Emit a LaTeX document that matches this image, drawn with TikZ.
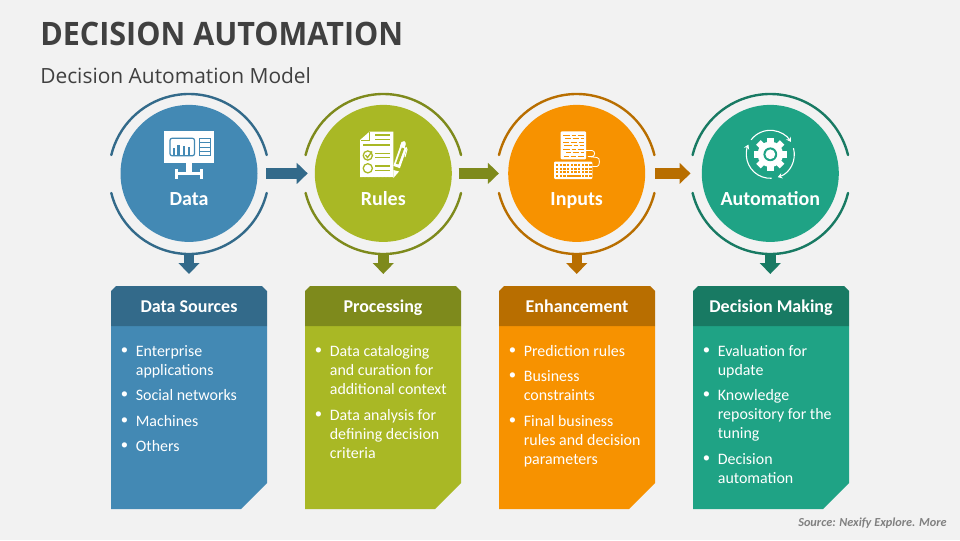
\documentclass[tikz,border=0pt]{standalone}
\usepackage{fontspec}
\setmainfont{Carlito}
\newfontfamily\titlefont{Open Sans}
\newfontfamily\titlefontn[FakeStretch=0.945]{Open Sans}
\usetikzlibrary{arrows.meta}
\definecolor{bgc}{HTML}{F2F2F2}
\definecolor{blueL}{HTML}{4389B4}
\definecolor{blueD}{HTML}{336A8A}
\definecolor{greenL}{HTML}{A9B825}
\definecolor{greenD}{HTML}{7E8A1C}
\definecolor{orangeL}{HTML}{F79200}
\definecolor{orangeD}{HTML}{B86E00}
\definecolor{tealL}{HTML}{1FA385}
\definecolor{tealD}{HTML}{187A63}
\definecolor{titlec}{HTML}{404040}
\def\px{0.75pt}
\tikzset{
  x=0.75pt,y=-0.75pt,
  disc/.style={circle,inner sep=0pt,minimum size=137*\px},
  disclabel/.style={text=white,font=\fontsize{15}{17}\bfseries\selectfont,inner sep=0pt,anchor=base},
  ringline/.style={line width=2.4*\px},
  conn/.style={line width=10.4*\px,-{Triangle[length=11*\px,width=20.5*\px]}},
  cardbox/.style={inner sep=0pt,minimum width=156*\px,minimum height=223*\px,anchor=north west},
  cardhead/.style={text=white,font=\fontsize{13.5}{15}\bfseries\selectfont,inner sep=0pt,anchor=base},
  item/.style={text=white,font=\fontsize{11.95}{14.25}\selectfont,inner sep=0pt,anchor=north west,align=left},
  bul/.style={text=white,font=\fontsize{11}{14}\selectfont,inner sep=0pt}
}
% #1 name, #2 card left x, #3 first-line centre y, #4 text
\newcommand{\bitem}[4]{%
  \node[bul] (#1b) at (#2+13.5,#3) {\textbullet};
  \node[item] (#1) at (#2+24.6,#3-8.3) {\rule{0pt}{10pt}#4};
}
% #1 name, #2 centre x, #3 light, #4 dark, #5 label
\newcommand{\stage}[5]{%
  \node[disc,fill=#3] (#1) at (#2,173.4) {};
  \draw[ringline,#4,line cap=round] (#2,174) ++(-13.7:80) arc (-13.7:-166.3:80);
  \draw[ringline,#4,line cap=round] (#2,174) ++(13.7:80) arc (13.7:166.3:80);
  \node[disclabel] (#1l) at (#2,205.8) {#5};
}
% #1 name, #2 left x, #3 light, #4 dark, #5 title
\newcommand{\cardshape}[5]{%
  \node[cardbox] (#1) at (#2,286) {};
  \fill[#3] (#2,326) -- (#2+156,326) -- (#2+156,483) -- (#2+130,509) -- (#2,509) -- cycle;
  \fill[#4] (#2,326) -- (#2,291) -- (#2+5,286) -- (#2+151,286) -- (#2+156,291) -- (#2+156,326) -- cycle;
  \node[cardhead] (#1t) at (#2+78,312.3) {#5};
}
\begin{document}
\begin{tikzpicture}
\useasboundingbox (0,0) rectangle (960,540);
\fill[bgc] (0,0) rectangle (960,540);

\node[anchor=base west,inner sep=0pt,text=titlec,font=\titlefontn\fontsize{24.2}{28}\bfseries\selectfont] (title) at (40,45.5) {DECISION AUTOMATION};
\node[anchor=base west,inner sep=0pt,text=titlec,font=\titlefont\fontsize{15.7}{18}\selectfont] (subtitle) at (40,83) {Decision Automation Model};
\node[anchor=base east,inner sep=0pt,text=black!50,font=\fontsize{9.2}{11}\bfseries\itshape\selectfont] (source) at (947,526) {Source: Nexify Explore. More};

\stage{data}{189}{blueL}{blueD}{Data}
\stage{rules}{383.3}{greenL}{greenD}{Rules}
\stage{inputs}{576.7}{orangeL}{orangeD}{Inputs}
\stage{autom}{770.3}{tealL}{tealD}{Automation}

\cardshape{c1}{111}{blueL}{blueD}{Data Sources}
\cardshape{c2}{305}{greenL}{greenD}{Processing}
\cardshape{c3}{499}{orangeL}{orangeD}{Enhancement}
\cardshape{c4}{693}{tealL}{tealD}{Decision Making}

% connectors
\draw[conn,blueD,shorten <=8.5*\px,shorten >=6.8*\px] (data.east) -- (rules.west);
\draw[conn,greenD,shorten <=6.5*\px,shorten >=9*\px] (rules.east) -- (inputs.west);
\draw[conn,orangeD,shorten <=10*\px,shorten >=11*\px] (inputs.east) -- (autom.west);
\coordinate (c1top) at (c1.north -| data.south);
\coordinate (c2top) at (c2.north -| rules.south);
\coordinate (c3top) at (c3.north -| inputs.south);
\coordinate (c4top) at (c4.north -| autom.south);
\draw[conn,blueD,shorten <=12.5*\px,shorten >=12*\px] (data.south) -- (c1top);
\draw[conn,greenD,shorten <=12.5*\px,shorten >=12*\px] (rules.south) -- (c2top);
\draw[conn,orangeD,shorten <=12.5*\px,shorten >=12*\px] (inputs.south) -- (c3top);
\draw[conn,tealD,shorten <=12.5*\px,shorten >=12*\px] (autom.south) -- (c4top);

% card 1
\bitem{a1}{111}{351}{Enterprise\\applications}
\bitem{a2}{111}{395}{Social networks}
\bitem{a3}{111}{421}{Machines}
\bitem{a4}{111}{446}{Others}
% card 2
\bitem{b1}{305}{351}{Data cataloging\\and curation for\\additional context}
\bitem{b2}{305}{415}{Data analysis for\\defining decision\\criteria}
% card 3
\bitem{d1}{499}{351}{Prediction rules}
\bitem{d2}{499}{376}{Business\\constraints}
\bitem{d3}{499}{421}{Final business\\rules and decision\\parameters}
% card 4
\bitem{e1}{693}{351}{Evaluation for\\update}
\bitem{e2}{693}{395}{Knowledge\\repository for the\\tuning}
\bitem{e3}{693}{459}{Decision\\automation}

% --- icon: data board
\fill[white] (164,130.7) rectangle (214,162.7);
\draw[blueL,line width=1.2*\px,rounded corners=2*\px] (170,138.3) rectangle (194.5,155.7);
\foreach \bx/\by in {174/148,178.5/144.5,184/145.5,189/147}
  \fill[blueL] (\bx-1.2,\by) rectangle (\bx+1.2,155);
\foreach \ly in {142.5,147,151.5}
  \draw[blueL,line width=0.9*\px] (199,\ly) -- (210.5,\ly);
\draw[blueL,line width=0.9*\px] (199,138.5) rectangle (210.5,155.5);
\fill[white] (186,162) rectangle (192,174);
\fill[white] (175,172.3) rectangle (203.3,175);
\fill[white] (175,169.3) rectangle (178,179.3);
\fill[white] (200.3,169.3) rectangle (203.3,179.3);

% --- icon: rules sheet and pen
\fill[white] (360,140) -- (369.5,131.7) -- (393.3,131.7) -- (393.3,177) -- (360,177) -- cycle;
\foreach \sx in {361.5,365,368.5,372,375.5,379,382.5,386,389.5}
  \fill[greenL] (\sx+1.75,178.4) ellipse (1.5 and 1.1);
\draw[greenL,line width=0.8*\px] (369.8,132) -- (369.8,140.6) -- (360.5,140.6);
\foreach \lx/\ly in {375/135,375/139.5,363/145,375/153.5,375/157.5,375/166,375/170.5}
  \draw[greenL,line width=1.3*\px] (\lx,\ly) -- (390,\ly);
\draw[greenL,line width=1.3*\px] (367.8,155.5) circle (4.6);
\draw[greenL,line width=1.3*\px] (365.5,155) -- (367.5,157.5) -- (372,151.5);
\draw[greenL,line width=1.3*\px] (367.8,168.3) circle (4.6);
\draw[white,line width=7*\px] (396.6,167) -- (403.6,147);
\draw[greenL,line width=2.6*\px] (397.2,164) -- (403,148);
\fill[white] (393.4,178) -- (393.4,170) -- (399,171.5) -- cycle;
\fill[white] (400,146) -- (401.5,142) .. controls (402.5,140) and (406,141) .. (405.8,144) -- (404.6,148) -- cycle;
\draw[white,line width=1*\px] (406,147) -- (407,149.5) -- (405,157);

% --- icon: keyboard and document
\fill[white,rounded corners=1*\px] (560.7,131.3) rectangle (586,159.3);
\foreach \ly/\sa/\sb/\sc in {135/563/571/577,138.5/565/572/580,142/563/570/578,145.5/564/573/579,149/563/571/577,152.5/566/572/580,156/564/570/577}{
  \draw[orangeL,line width=0.9*\px] (\sa,\ly) -- (\sb-1,\ly);
  \draw[orangeL,line width=0.9*\px] (\sb+0.5,\ly) -- (\sc-1,\ly);
  \draw[orangeL,line width=0.9*\px] (\sc+0.5,\ly) -- (583.5,\ly);
}
\fill[white,rounded corners=1*\px] (554,161.7) rectangle (592.3,179);
\foreach \ky in {164,167.7,171.4}
  \foreach \kx in {556,559.7,563.4,567.1,570.8,574.5,578.2,581.9,585.6,589.3}
    \fill[orangeL] (\kx-0.2,\ky-0.2) rectangle ++(2.4,2.2);
\foreach \kx in {556,559.7,563.4,581.9,585.6,589.3}
  \fill[orangeL] (\kx-0.2,174.9) rectangle ++(2.4,2.2);
\fill[orangeL] (567,174.9) rectangle (580.5,177.1);
\draw[white,line width=0.8*\px] (586,150.5) -- (592,150.5) .. controls (595.5,150.5) and (595.5,156.5) .. (592,156.5) -- (588,156.5) -- (597,157.5) .. controls (600.5,157.5) and (600,166.5) .. (597,166.5) -- (592.3,166.5);

% --- icon: gear with cycle arrows
\coordinate (gearc) at (770.3,154.3);
\foreach \ga in {0,45,...,315}
  \draw[white,line width=6.5*\px] (gearc) -- ++(\ga:16.7);
\fill[white] (gearc) circle (12.8);
\fill[tealL] (gearc) circle (6.9);
\fill[white] (gearc) circle (4.9);
\begin{scope}[white,line width=1.1*\px,-{Stealth[length=4.5*\px,width=5.5*\px]}]
\draw (gearc) ++(217:24) arc (217:329:24);
\draw (gearc) ++(-15:24) arc (-15:72:24);
\draw (gearc) ++(87:24) arc (87:204:24);
\end{scope}
\end{tikzpicture}
\end{document}
